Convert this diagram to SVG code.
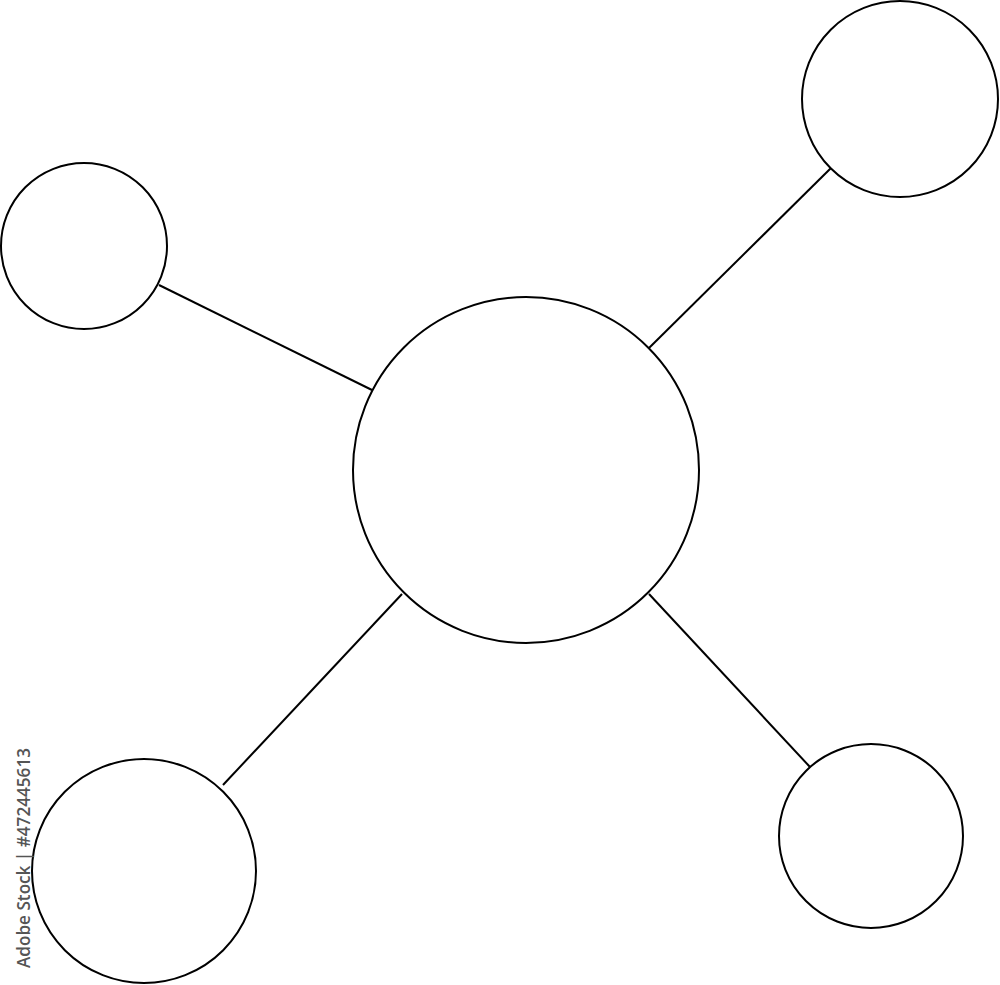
<svg xmlns="http://www.w3.org/2000/svg" width="1000" height="985" viewBox="0 0 1000 985">
<style>
.node{fill:#fff;stroke:#000;stroke-width:2}
.edge{stroke:#000;stroke-width:2;fill:none}
.wm{font-family:"Open Sans","Liberation Sans",sans-serif;font-size:18px;font-weight:600;fill:#555}
</style>
<rect width="1000" height="985" fill="#fff"/>
<g id="connectors">
<line class="edge" x1="159" y1="285" x2="372" y2="390"/>
<line class="edge" x1="831" y1="168" x2="649" y2="348"/>
<line class="edge" x1="223" y1="785" x2="402" y2="594"/>
<line class="edge" x1="649" y1="594" x2="810" y2="767"/>
</g>
<g id="center"><circle class="node" cx="526" cy="470" r="173"/></g>
<g id="top-right"><circle class="node" cx="900" cy="99" r="98"/></g>
<g id="left"><circle class="node" cx="84" cy="246" r="83"/></g>
<g id="bottom-left"><circle class="node" cx="144" cy="871" r="112"/></g>
<g id="bottom-right"><circle class="node" cx="871" cy="836" r="92"/></g>
<text class="wm" transform="translate(30,968) rotate(-90)" textLength="220" lengthAdjust="spacingAndGlyphs">Adobe Stock | #472445613</text>
</svg>
